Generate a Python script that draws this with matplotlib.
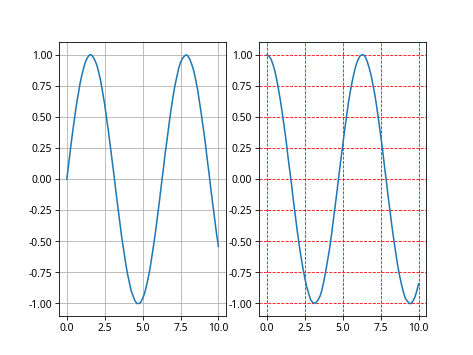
import matplotlib
matplotlib.use("Agg")
import matplotlib.pyplot as plt

plt.rcParams['font.family'] = ['Noto Sans', 'DejaVu Sans']
plt.rcParams['axes.unicode_minus'] = False

x_vals = [0.0, 0.125, 0.25, 0.375, 0.5, 0.625, 0.75, 0.875, 1.0, 1.125, 1.25,
          1.375, 1.5, 1.625, 1.75, 1.875, 2.0, 2.125, 2.25, 2.375, 2.5, 2.625,
          2.75, 2.875, 3.0, 3.125, 3.25, 3.375, 3.5, 3.625, 3.75, 3.875, 4.0,
          4.125, 4.25, 4.375, 4.5, 4.625, 4.75, 4.875, 5.0, 5.125, 5.25, 5.375,
          5.5, 5.625, 5.75, 5.875, 6.0, 6.125, 6.25, 6.375, 6.5, 6.625, 6.75,
          6.875, 7.0, 7.125, 7.25, 7.375, 7.5, 7.625, 7.75, 7.875, 8.0, 8.125,
          8.25, 8.375, 8.5, 8.625, 8.75, 8.875, 9.0, 9.125, 9.25, 9.375, 9.5,
          9.625, 9.75, 9.875, 10.0]
left_vals = [0.00, 0.12, 0.25, 0.37, 0.48, 0.59, 0.68, 0.77, 0.84, 0.90, 0.95,
             0.98, 1.00, 1.00, 0.98, 0.95, 0.91, 0.85, 0.78, 0.69, 0.60, 0.49,
             0.38, 0.26, 0.14, 0.02, -0.11, -0.23, -0.35, -0.47, -0.57, -0.67,
             -0.76, -0.83, -0.90, -0.94, -0.98, -1.00, -1.00, -0.99, -0.96,
             -0.92, -0.86, -0.79, -0.71, -0.61, -0.51, -0.40, -0.28, -0.16,
             -0.03, 0.09, 0.22, 0.33, 0.45, 0.56, 0.66, 0.75, 0.82, 0.89, 0.94,
             0.97, 0.99, 1.00, 0.99, 0.96, 0.92, 0.87, 0.80, 0.72, 0.62, 0.52,
             0.41, 0.30, 0.17, 0.05, -0.08, -0.20, -0.32, -0.44, -0.54]
right_vals = [1.00, 0.99, 0.97, 0.93, 0.88, 0.81, 0.73, 0.64, 0.54, 0.43, 0.32,
              0.19, 0.07, -0.05, -0.18, -0.30, -0.42, -0.53, -0.63, -0.72,
              -0.80, -0.87, -0.92, -0.97, -0.99, -1.00, -0.99, -0.97, -0.94,
              -0.89, -0.82, -0.74, -0.65, -0.56, -0.45, -0.33, -0.21, -0.09,
              0.04, 0.16, 0.28, 0.40, 0.51, 0.62, 0.71, 0.79, 0.86, 0.92, 0.96,
              0.99, 1.00, 1.00, 0.98, 0.94, 0.89, 0.83, 0.75, 0.67, 0.57, 0.46,
              0.35, 0.23, 0.10, -0.02, -0.15, -0.27, -0.39, -0.50, -0.60, -0.70,
              -0.78, -0.85, -0.91, -0.96, -0.98, -1.00, -1.00, -0.98, -0.95,
              -0.90, -0.84]

fig, (ax1, ax2) = plt.subplots(1, 2, figsize=(6.4, 4.8), dpi=74)
ax1.plot(x_vals, left_vals)
ax1.grid(True)
ax2.plot(x_vals, right_vals)
ax2.grid(True, color='r', linestyle='--')

fig.savefig('out.png', dpi=74)
